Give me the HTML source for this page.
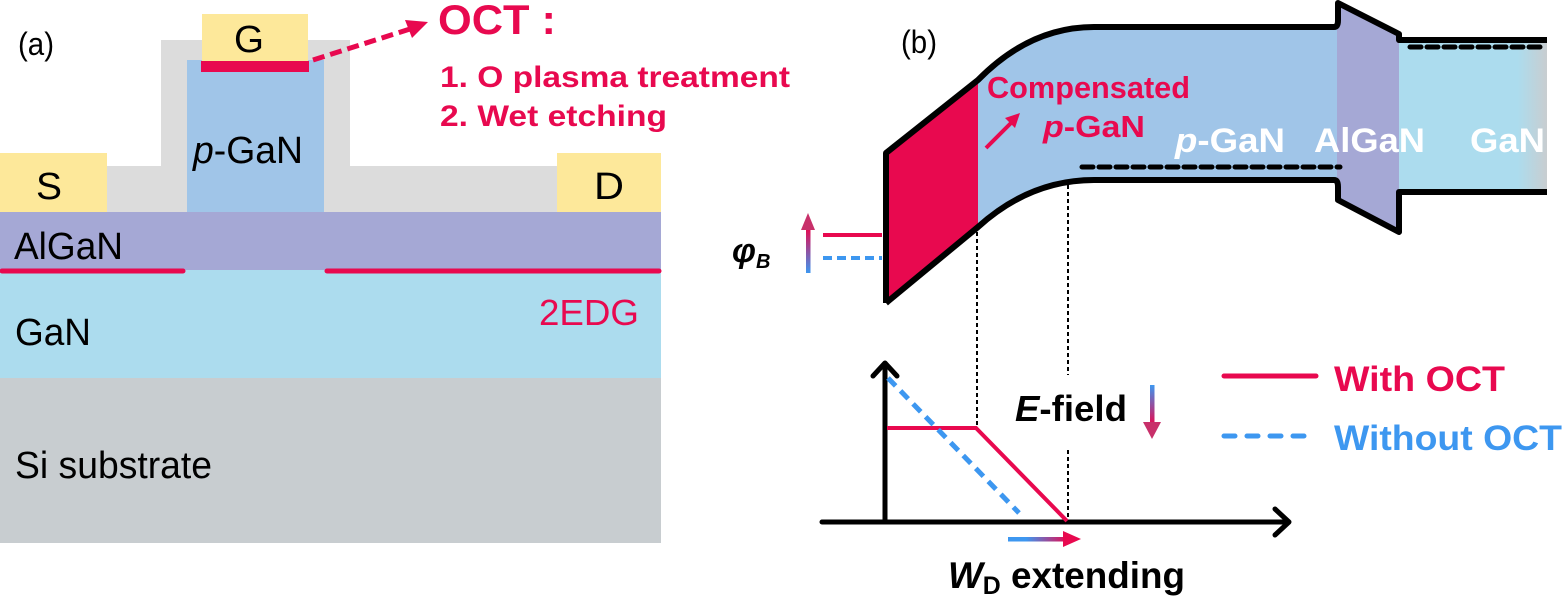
<!DOCTYPE html>
<html><head><meta charset="utf-8"><style>
html,body{margin:0;padding:0;background:#fff}
svg{display:block}
text{font-family:"Liberation Sans",Arial,sans-serif}
</style></head><body>
<svg width="1566" height="596" viewBox="0 0 1566 596" xmlns="http://www.w3.org/2000/svg">
<defs>
<linearGradient id="gv" x1="0" y1="1" x2="0" y2="0"><stop offset="0" stop-color="#3d97f0"/><stop offset="1" stop-color="#e8094f"/></linearGradient>
<linearGradient id="gd" x1="0" y1="0" x2="0" y2="1"><stop offset="0" stop-color="#3d97f0"/><stop offset="1" stop-color="#e8094f"/></linearGradient>
<linearGradient id="gh" x1="0" y1="0" x2="1" y2="0"><stop offset="0.3" stop-color="#3d97f0"/><stop offset="1" stop-color="#e8094f"/></linearGradient>
<linearGradient id="gg" x1="0" y1="0" x2="1" y2="0"><stop offset="0" stop-color="#acdcee"/><stop offset="0.8" stop-color="#acdcee"/><stop offset="1" stop-color="#c8cdd0"/></linearGradient>
</defs>
<!-- Panel a -->
<rect x="0" y="378" width="661" height="165" fill="#c8cdd0"/>
<rect x="0" y="270" width="661" height="108" fill="#acdcee"/>
<rect x="0" y="212" width="661" height="58" fill="#a5a8d5"/>
<path d="M107 212 V166 H161 V40 H350 V166 H557 V212 Z" fill="#dcdcdc"/>
<rect x="187" y="60" width="137" height="152" fill="#a0c5e8"/>
<rect x="202" y="14" width="106" height="47" fill="#fde89a"/>
<rect x="201" y="61" width="108" height="11" fill="#e8094f"/>
<rect x="0" y="153" width="107" height="59" fill="#fde89a"/>
<rect x="557" y="153" width="104" height="59" fill="#fde89a"/>
<line x1="2" y1="271" x2="183" y2="271" stroke="#e8094f" stroke-width="5" stroke-linecap="round"/>
<line x1="327" y1="271" x2="659" y2="271" stroke="#e8094f" stroke-width="5" stroke-linecap="round"/>
<text x="18" y="55" font-size="32" textLength="36" lengthAdjust="spacingAndGlyphs">(a)</text>
<text x="234" y="52" font-size="38" textLength="30" lengthAdjust="spacingAndGlyphs">G</text>
<text x="193" y="163" font-size="38" textLength="110" lengthAdjust="spacingAndGlyphs"><tspan font-style="italic">p</tspan>-GaN</text>
<text x="36" y="199" font-size="38" textLength="26" lengthAdjust="spacingAndGlyphs">S</text>
<text x="594" y="199" font-size="38" textLength="30" lengthAdjust="spacingAndGlyphs">D</text>
<text x="14" y="259" font-size="38" textLength="109" lengthAdjust="spacingAndGlyphs">AlGaN</text>
<text x="15" y="345" font-size="38" textLength="76" lengthAdjust="spacingAndGlyphs">GaN</text>
<text x="539" y="325" font-size="36" fill="#e8094f" textLength="100" lengthAdjust="spacingAndGlyphs">2EDG</text>
<text x="15" y="478" font-size="38" textLength="197" lengthAdjust="spacingAndGlyphs">Si substrate</text>
<line x1="313" y1="60" x2="410" y2="29" stroke="#e8094f" stroke-width="5" stroke-dasharray="12,6"/>
<polygon points="428,22 405,20 412,38" fill="#e8094f"/>
<text x="438" y="34" font-size="42" font-weight="bold" fill="#e8094f" textLength="118" lengthAdjust="spacingAndGlyphs">OCT :</text>
<text x="440" y="87" font-size="30" font-weight="bold" fill="#e8094f" textLength="350" lengthAdjust="spacingAndGlyphs">1.  O plasma treatment</text>
<text x="440" y="126" font-size="30" font-weight="bold" fill="#e8094f" textLength="227" lengthAdjust="spacingAndGlyphs">2.  Wet etching</text>
<!-- Panel b -->
<text x="901" y="53" font-size="32" textLength="36" lengthAdjust="spacingAndGlyphs">(b)</text>
<path d="M886 153 L978 80 Q1030 27 1094 27 L1337 27 L1337 200 L1399 232 L1399 192 L1547 192 L1547 40 L1399 40 L1399 33 L1337 2 L1337 180 L1094 180 Q1040 180 978 227 L886 303 Z" fill="#a0c5e8"/>
<path d="M1337 4 L1399 34 L1399 232 L1337 200 Z" fill="#a5a8d5"/>
<rect x="1399" y="40" width="148" height="152" fill="url(#gg)"/>
<path d="M886 153 L978 80 L978 227 L886 303 Z" fill="#e8094f"/>
<path d="M886 303 L886 153 L978 80 Q1030 27 1094 27 L1334 27 Q1338 27 1338 20 L1338 3 L1399 34 L1399 40 L1547 40" fill="none" stroke="#000" stroke-width="6" stroke-linejoin="round"/>
<path d="M886 303 L978 227 Q1030 180 1094 180 L1334 180 Q1338 180 1338 187 L1338 200 L1399 232 L1399 192 L1547 192" fill="none" stroke="#000" stroke-width="6" stroke-linejoin="round"/>
<line x1="1082" y1="167" x2="1340" y2="167" stroke="#000" stroke-width="5" stroke-dasharray="11,6" stroke-linecap="round"/>
<line x1="1410" y1="47" x2="1540" y2="47" stroke="#000" stroke-width="5" stroke-dasharray="11,6" stroke-linecap="round"/>
<text x="987" y="98" font-size="31" font-weight="bold" fill="#e8094f" textLength="203" lengthAdjust="spacingAndGlyphs">Compensated</text>
<text x="1043" y="137" font-size="31" font-weight="bold" fill="#e8094f" textLength="102" lengthAdjust="spacingAndGlyphs"><tspan font-style="italic">p</tspan>-GaN</text>
<line x1="986" y1="148" x2="1012" y2="122" stroke="#e8094f" stroke-width="4"/>
<polygon points="1020,113 1005,118 1015,128" fill="#e8094f"/>
<text x="1175" y="152" font-size="34" font-weight="bold" fill="#fff" textLength="110" lengthAdjust="spacingAndGlyphs"><tspan font-style="italic">p</tspan>-GaN</text>
<text x="1314" y="152" font-size="34" font-weight="bold" fill="#fff" textLength="111" lengthAdjust="spacingAndGlyphs">AlGaN</text>
<text x="1470" y="152" font-size="34" font-weight="bold" fill="#fff" textLength="75" lengthAdjust="spacingAndGlyphs">GaN</text>
<!-- phiB -->
<line x1="823" y1="235" x2="882" y2="235" stroke="#e8094f" stroke-width="4"/>
<line x1="823" y1="258" x2="882" y2="258" stroke="#3d97f0" stroke-width="4" stroke-dasharray="9,5"/>
<rect x="806" y="228" width="4.5" height="45" fill="url(#gv)"/>
<polygon points="808,213 801,230 815,230" fill="#c8306a"/>
<text x="732" y="262" font-size="34" font-weight="bold" font-style="italic">φ<tspan font-size="20" dy="6">B</tspan></text>
<!-- dotted -->
<line x1="977" y1="232" x2="977" y2="428" stroke="#000" stroke-width="2" stroke-dasharray="4,3"/>
<line x1="1068" y1="185" x2="1068" y2="375" stroke="#000" stroke-width="2" stroke-dasharray="4,3"/>
<line x1="1068" y1="450" x2="1068" y2="520" stroke="#000" stroke-width="2" stroke-dasharray="4,3"/>
<!-- axes -->
<line x1="885" y1="522" x2="885" y2="365" stroke="#000" stroke-width="5"/>
<polyline points="873,376 885,363 897,376" fill="none" stroke="#000" stroke-width="5" stroke-linecap="round" stroke-linejoin="round"/>
<line x1="822" y1="522" x2="1288" y2="522" stroke="#000" stroke-width="5" stroke-linecap="round"/>
<polyline points="1275,509 1289,522 1275,535" fill="none" stroke="#000" stroke-width="5" stroke-linecap="round" stroke-linejoin="round"/>
<polyline points="887,428 976,428 1067,521" fill="none" stroke="#e8094f" stroke-width="4"/>
<line x1="888" y1="378" x2="1019" y2="513" stroke="#3d97f0" stroke-width="5" stroke-dasharray="11,7"/>
<text x="1015" y="421" font-size="36" font-weight="bold" textLength="112" lengthAdjust="spacingAndGlyphs"><tspan font-style="italic">E</tspan>-field</text>
<rect x="1150" y="385" width="4.5" height="40" fill="url(#gd)"/>
<polygon points="1152,439 1143,422 1161,422" fill="#c8306a"/>
<rect x="1008" y="537" width="60" height="4.5" fill="url(#gh)"/>
<polygon points="1081,539 1063,531 1063,547" fill="#e8094f"/>
<text x="948" y="588" font-size="37" font-weight="bold" textLength="237" lengthAdjust="spacingAndGlyphs"><tspan font-style="italic">W</tspan><tspan font-size="25" dy="6">D</tspan><tspan dy="-6"> extending</tspan></text>
<!-- legend -->
<line x1="1224" y1="376" x2="1316" y2="376" stroke="#e8094f" stroke-width="5" stroke-linecap="round"/>
<text x="1334" y="391" font-size="35" font-weight="bold" fill="#e8094f" textLength="171" lengthAdjust="spacingAndGlyphs">With OCT</text>
<line x1="1224" y1="436" x2="1310" y2="436" stroke="#3d97f0" stroke-width="5" stroke-linecap="round" stroke-dasharray="11,12"/>
<text x="1334" y="450" font-size="35" font-weight="bold" fill="#3d97f0" textLength="228" lengthAdjust="spacingAndGlyphs">Without OCT</text>
</svg>
</body></html>
